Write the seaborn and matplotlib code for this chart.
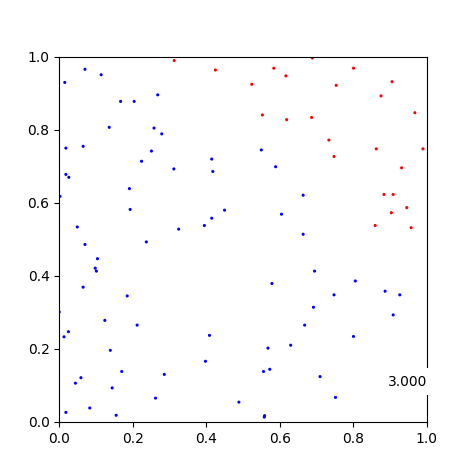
import pandas as pd
import matplotlib
matplotlib.use("Agg")
import matplotlib.pyplot as plt
import seaborn as sns

# blue points (x, y)
blue_x = [0.070, 0.114, 0.015, 0.268, 0.167, 0.204, 0.136, 0.258, 0.279, 0.018,
          0.065, 0.251, 0.224, 0.312, 0.415, 0.418, 0.018, 0.026, 0.191, 0.002,
          0.193, 0.450, 0.415, 0.049, 0.325, 0.395, 0.550, 0.589, 0.664, 0.605,
          0.664, 0.237, 0.070, 0.104, 0.098, 0.101, 0.065, 0.185, 0.000, 0.124,
          0.212, 0.025, 0.013, 0.409, 0.139, 0.398, 0.170, 0.286, 0.059, 0.044,
          0.144, 0.262, 0.083, 0.018, 0.155, 0.489, 0.695, 0.579, 0.806, 0.748,
          0.887, 0.927, 0.692, 0.909, 0.668, 0.801, 0.630, 0.568, 0.556, 0.573,
          0.710, 0.752, 0.559, 0.558]
blue_y = [0.966, 0.951, 0.930, 0.896, 0.878, 0.878, 0.807, 0.805, 0.789, 0.750,
          0.755, 0.742, 0.714, 0.693, 0.720, 0.686, 0.678, 0.670, 0.639, 0.618,
          0.582, 0.580, 0.558, 0.534, 0.528, 0.538, 0.745, 0.699, 0.621, 0.569,
          0.514, 0.493, 0.486, 0.447, 0.421, 0.413, 0.369, 0.345, 0.301, 0.278,
          0.265, 0.247, 0.233, 0.237, 0.196, 0.166, 0.138, 0.130, 0.121, 0.106,
          0.093, 0.065, 0.038, 0.026, 0.018, 0.054, 0.413, 0.379, 0.386, 0.348,
          0.358, 0.348, 0.314, 0.293, 0.265, 0.234, 0.210, 0.202, 0.138, 0.144,
          0.124, 0.067, 0.017, 0.013]

# red points
red_x = [0.313, 0.425, 0.689, 0.584, 0.801, 0.617, 0.524, 0.754, 0.906, 0.876,
         0.968, 0.553, 0.619, 0.687, 0.734, 0.863, 0.990, 0.748, 0.932, 0.884,
         0.909, 0.946, 0.904, 0.860, 0.958]
red_y = [0.990, 0.964, 0.997, 0.969, 0.969, 0.948, 0.925, 0.922, 0.932, 0.893,
         0.847, 0.841, 0.828, 0.834, 0.772, 0.748, 0.748, 0.727, 0.696, 0.623,
         0.623, 0.587, 0.573, 0.538, 0.532]

score_label = "3.000"

df = pd.DataFrame({
    "x": blue_x + red_x,
    "y": blue_y + red_y,
    "cls": ["blue"] * len(blue_x) + ["red"] * len(red_x),
})

fig, ax = plt.subplots(figsize=(4.74, 4.74), dpi=100)

sns.scatterplot(data=df, x="x", y="y", hue="cls",
                palette={"blue": "blue", "red": "red"},
                s=5, linewidth=0, legend=False, ax=ax)

ax.set_xlim(0, 1)
ax.set_ylim(0, 1)
ax.set_xlabel("")
ax.set_ylabel("")
ax.set_xticks([0.0, 0.2, 0.4, 0.6, 0.8, 1.0])
ax.set_yticks([0.0, 0.2, 0.4, 0.6, 0.8, 1.0])

ax.text(1.003, 0.11, score_label, transform=ax.transAxes, ha="right",
        va="center", fontsize=10, zorder=5, clip_on=False,
        bbox=dict(facecolor="white", edgecolor="none", pad=4.5))

plt.savefig("out.png", dpi=100)
